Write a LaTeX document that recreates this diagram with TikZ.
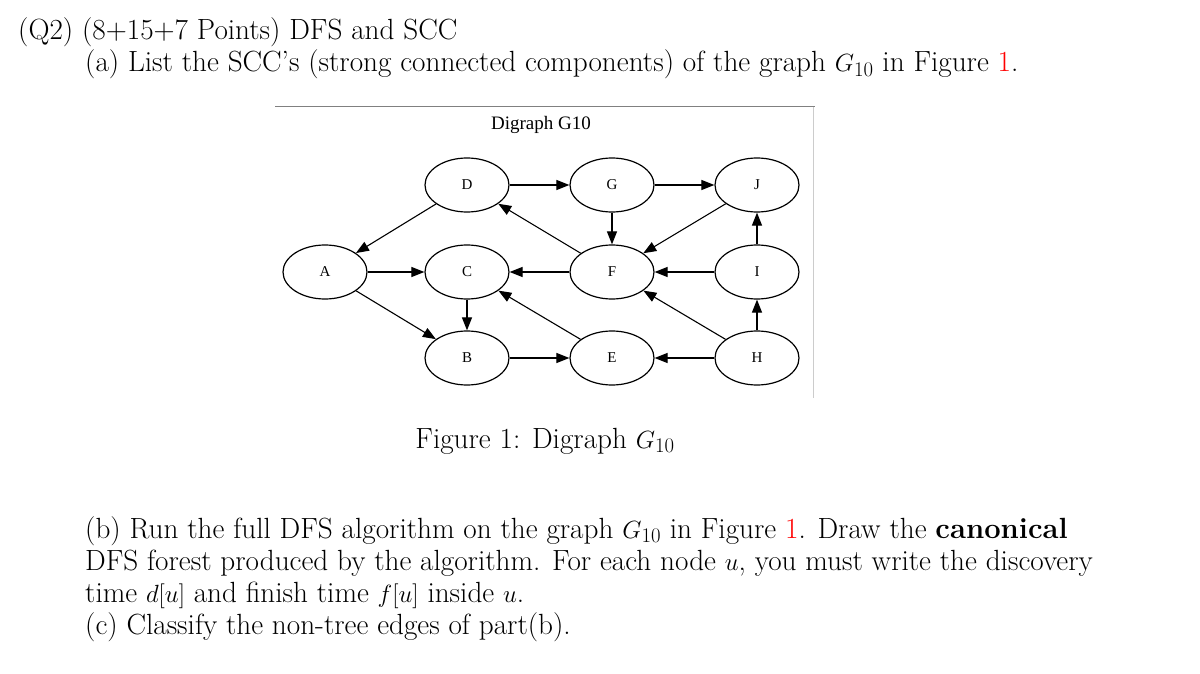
\documentclass[tikz,border=0pt]{standalone}
\usepackage{fontspec}
\newfontfamily\gfont{Liberation Serif}
\usetikzlibrary{shapes.geometric,arrows.meta}
\begin{document}
\begin{tikzpicture}[x=1pt,y=-1pt,
  vtx/.style={ellipse,draw,line width=1.2pt,minimum width=84pt,minimum height=54pt,font=\gfont\fontsize{15}{17}\selectfont},
  edge/.style={-{Triangle[length=13pt,width=10pt]},line width=1.1pt},
  txt/.style={anchor=base west,inner sep=0pt,font=\fontsize{29.2}{32}\selectfont}]
\useasboundingbox (0,0) rectangle (1200,674);
\node[txt] (q) at (18,40) {(Q2) (8+15+7 Points) DFS and SCC};
\node[txt] (a) at (85,72) {(a) List the SCC's (strong connected components) of the graph $G_{10}$ in Figure \textcolor{red}{1}.};
\draw[line width=1pt,gray] (275,107) -- (815,107);
\draw[line width=0.6pt,gray!40] (813,107) -- (813,398);
\node[font=\gfont\fontsize{19}{22}\selectfont] (t) at (541,125) {Digraph G10};
\node[vtx] (A) at (325,272) {A};
\node[vtx] (C) at (467,272) {C};
\node[vtx] (F) at (612,272) {F};
\node[vtx] (I) at (757,272) {I};
\node[vtx] (D) at (467,185) {D};
\node[vtx] (G) at (612,185) {G};
\node[vtx] (J) at (757,185) {J};
\node[vtx] (B) at (467,358) {B};
\node[vtx] (E) at (612,358) {E};
\node[vtx] (H) at (757,358) {H};
\draw[edge] (D) -- (G);
\draw[edge] (G) -- (J);
\draw[edge] (D) -- (A);
\draw[edge] (G) -- (F);
\draw[edge] (J) -- (F);
\draw[edge] (F) -- (D);
\draw[edge] (A) -- (C);
\draw[edge] (F) -- (C);
\draw[edge] (I) -- (F);
\draw[edge] (I) -- (J);
\draw[edge] (A) -- (B);
\draw[edge] (C) -- (B);
\draw[edge] (E) -- (C);
\draw[edge] (H) -- (F);
\draw[edge] (H) -- (I);
\draw[edge] (B) -- (E);
\draw[edge] (H) -- (E);
\node[anchor=base,inner sep=0pt,font=\fontsize{29.2}{32}\selectfont] (cap) at (545,448) {Figure 1: Digraph $G_{10}$};
\node[txt] (b1) at (85,538) {(b) Run the full DFS algorithm on the graph $G_{10}$ in Figure \textcolor{red}{1}. Draw the \textbf{canonical}};
\node[txt] (b2) at (85,570) {DFS forest produced by the algorithm. For each node $u$, you must write the discovery};
\node[txt] (b3) at (85,602) {time $d[u]$ and finish time $f[u]$ inside $u$.};
\node[txt] (c) at (85,634) {(c) Classify the non-tree edges of part(b).};
\end{tikzpicture}
\end{document}
